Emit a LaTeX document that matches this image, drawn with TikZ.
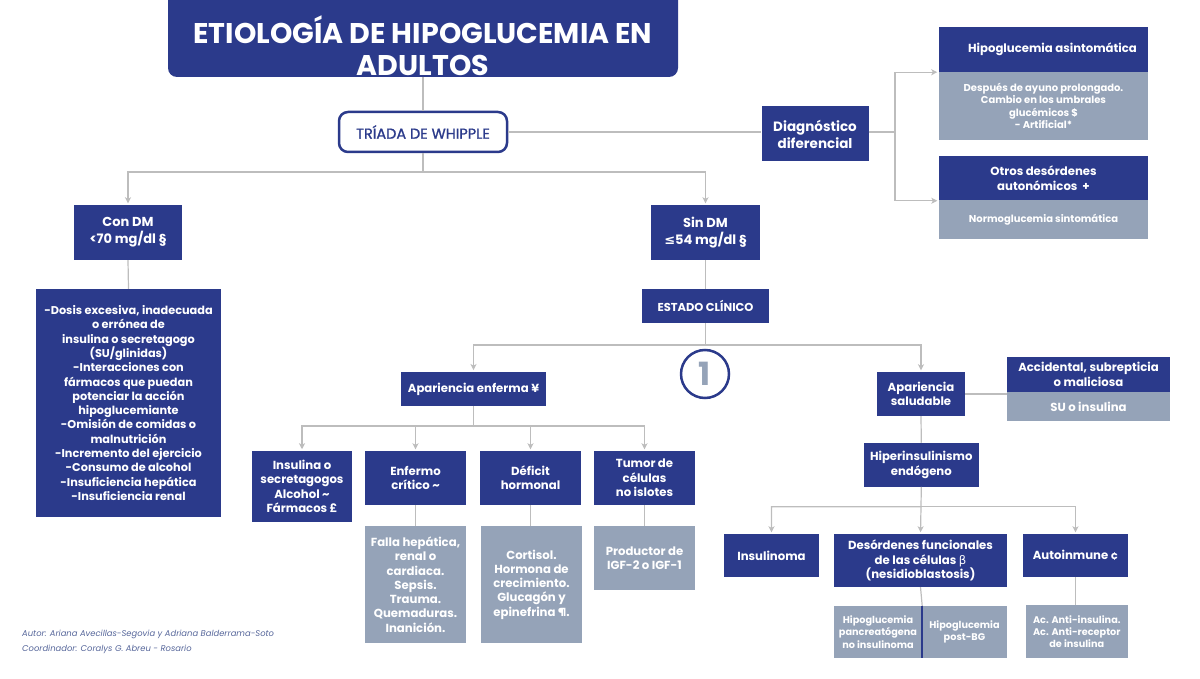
\documentclass[tikz,border=0pt]{standalone}
\usepackage{fontspec}
\setmainfont{Poppins}
\newfontfamily\dvs{DejaVu Sans}
\newfontfamily\popmed[FakeBold=1.2]{Poppins}
\usetikzlibrary{arrows.meta,calc}
\definecolor{navy}{HTML}{2B3A8B}
\definecolor{grayb}{HTML}{95A3B8}
\definecolor{linec}{HTML}{BDBDBD}
\definecolor{authc}{HTML}{56669A}
\newcommand\myfs[2]{\fontsize{#1}{#2}\selectfont}
\tikzset{
  nb/.style={fill=navy, text=white, align=center, inner sep=0pt, font=\bfseries\myfs{11.7}{14.3}},
  gb/.style={fill=grayb, text=white, align=center, inner sep=0pt, font=\bfseries\myfs{11.7}{14.3}},
  ln/.style={draw=linec, line width=1.2pt},
  ar/.style={ln, -{Stealth[length=6pt,width=6pt,inset=1.5pt]}, shorten >=1.5pt},
}
\begin{document}
\begin{tikzpicture}[x=1pt,y=-1pt]
\useasboundingbox (0,0) rectangle (1200,679);
% title
\node[fill=navy, rounded corners=9pt, minimum width=510pt, minimum height=86pt, inner sep=0pt] (title) at (423,34) {};
\node[text=white, align=center, font=\bfseries\myfs{28.5}{31.5}] (titletext) at (423,45.5) {ETIOLOGÍA DE HIPOGLUCEMIA EN\\ADULTOS};
% whipple
\node[draw=navy, line width=2.5pt, fill=white, rounded corners=9pt, minimum width=168pt, minimum height=40pt, inner sep=0pt, text=navy, font=\popmed\myfs{14.5}{16}] (whipple) at (423,132) {TRÍADA DE WHIPPLE};
% diagnostico
\node[nb, minimum width=107pt, minimum height=55pt, font=\bfseries\myfs{13.5}{17}] (diag) at (815,134) {Diagnóstico\\diferencial};
\node[nb, minimum width=209pt, minimum height=45pt, font=\bfseries\myfs{11.7}{14}] (asinN) at (1043.5,49.5) {\hspace*{18pt}Hipoglucemia asintomática};
\node[gb, minimum width=209pt, minimum height=68pt, font=\bfseries\myfs{10}{12.4}] (asinG) at (1043.5,106) {Después de ayuno prolongado.\\Cambio en los umbrales\\glucémicos \$\\- Artificial*};
\node[nb, minimum width=209pt, minimum height=44.5pt, font=\bfseries\myfs{11.7}{14.5}] (otrosN) at (1043.5,178.3) {Otros desórdenes\\autonómicos~~+};
\node[gb, minimum width=209pt, minimum height=38.5pt, font=\bfseries\myfs{10}{12.4}] (otrosG) at (1043.5,219.7) {Normoglucemia sintomática};
% level 2
\node[nb, minimum width=108pt, minimum height=55pt, font=\bfseries\myfs{13}{17}] (condm) at (128,232.5) {Con DM\\<70 mg/dl §};
\node[nb, minimum width=109pt, minimum height=55pt, font=\bfseries\myfs{13}{17}] (sindm) at (705.5,232.5) {Sin DM\\{\dvs\bfseries ≤}54 mg/dl §};
\node[nb, minimum width=185pt, minimum height=228pt, font=\bfseries\myfs{11.3}{14.3}] (dosis) at (128.5,403) {-Dosis excesiva, inadecuada\\o errónea de\\insulina o secretagogo\\(SU/glinidas)\\-Interacciones con\\fármacos que puedan\\potenciar la acción\\hipoglucemiante\\-Omisión de comidas o\\malnutrición\\-Incremento del ejercicio\\-Consumo de alcohol\\-Insuficiencia hepática\\-Insuficiencia renal};
\node[nb, minimum width=127pt, minimum height=34pt, font=\bfseries\myfs{11.5}{14}] (estado) at (705.5,306) {ESTADO CLÍNICO};
\node[draw=navy, line width=2.5pt, circle, minimum size=48pt, inner sep=0pt, text=grayb, font=\bfseries\myfs{32}{32}] (one) at (705,374) {1};
% enferma branch
\node[nb, minimum width=145pt, minimum height=34.5pt, font=\bfseries\myfs{11.7}{14}] (enferma) at (473.5,389) {Apariencia enferma ¥};
\node[nb, minimum width=100pt, minimum height=70.7pt] (insul) at (302,486.3) {Insulina o\\secretagogos\\Alcohol \textasciitilde\\Fármacos £};
\node[nb, minimum width=101pt, minimum height=54pt] (enfcrit) at (415.5,478) {Enfermo\\crítico \textasciitilde};
\node[nb, minimum width=101pt, minimum height=54pt] (deficit) at (530.5,478) {Déficit\\hormonal};
\node[nb, minimum width=101pt, minimum height=54pt] (tumor) at (644.5,478) {Tumor de\\células\\no islotes};
\node[gb, minimum width=101pt, minimum height=117pt] (falla) at (415.5,584.5) {Falla hepática,\\renal o\\cardiaca.\\Sepsis.\\Trauma.\\Quemaduras.\\Inanición.};
\node[gb, minimum width=101pt, minimum height=117pt] (cortisol) at (531.5,584.5) {Cortisol.\\Hormona de\\crecimiento.\\Glucagón y\\epinefrina ¶.};
\node[gb, minimum width=101pt, minimum height=64pt] (productor) at (644.5,558) {Productor de\\IGF-2 o IGF-1};
% saludable branch
\node[nb, minimum width=88pt, minimum height=44pt] (saludable) at (921,394) {Apariencia\\saludable};
\node[nb, minimum width=163pt, minimum height=35pt] (accid) at (1088.5,374.5) {Accidental, subrepticia\\o maliciosa};
\node[gb, minimum width=163pt, minimum height=29pt] (su) at (1088.5,406.5) {SU o insulina};
\node[nb, minimum width=114.7pt, minimum height=43.7pt] (hiper) at (921.3,464.8) {Hiperinsulinismo\\endógeno};
\node[nb, minimum width=95pt, minimum height=43pt] (insulinoma) at (771.5,555.5) {Insulinoma};
\node[nb, minimum width=173pt, minimum height=53pt] (desord) at (920.5,560.5) {Desórdenes funcionales\\de las células {\dvs\mdseries β}\\(nesidioblastosis)};
\node[nb, minimum width=105pt, minimum height=43pt] (autoin) at (1075.5,555.5) {Autoinmune ¢};
\node[gb, minimum width=88pt, minimum height=52pt, font=\bfseries\myfs{9.7}{12.3}] (pancr) at (878,632) {Hipoglucemia\\pancreatógena\\no insulinoma};
\node[gb, minimum width=85pt, minimum height=52pt, font=\bfseries\myfs{9.7}{12.3}] (postbg) at (964.5,632) {Hipoglucemia\\post-BG};
\draw[navy, line width=1.5pt] (pancr.north east) -- (pancr.south east);
\node[gb, minimum width=102.3pt, minimum height=53pt, font=\bfseries\myfs{9.7}{12.3}] (acanti) at (1076.8,631.5) {Ac. Anti-insulina.\\Ac. Anti-receptor\\de insulina};
% author
\node[anchor=west, align=left, text=authc, inner sep=0pt, font=\itshape\myfs{8.4}{15}] (author) at (22,641.5) {Autor: Ariana Avecillas-Segovia y Adriana Balderrama-Soto\\Coordinador: Coralys G. Abreu - Rosario};
% connectors
\draw[ln] (title.south) -- (whipple.north);
\draw[ln] (whipple.east) -- (whipple.east -| diag.west);
\coordinate (dj) at (895,132);
\draw[ar] (whipple.east -| diag.east) -- (dj) |- (asinN.south west);
\draw[ar] (dj) |- (otrosN.south west);
\coordinate (wj) at (423,172);
\draw[ar] (whipple.south) -- (wj) -| (condm.north);
\draw[ar] (wj) -| (sindm.north);
\draw[ln] (condm.south) -- (dosis.north);
\draw[ln] (sindm.south) -- (estado.north);
\coordinate (ej) at (705.5,345);
\draw[ar] (estado.south) -- (ej) -| (enferma.north);
\draw[ar] (ej) -| (saludable.north);
\coordinate (aj) at (473.5,426);
\draw[ar] (enferma.south) -- (aj) -| (insul.north);
\draw[ar] (aj) -| (enfcrit.north);
\draw[ar] (aj) -| (deficit.north);
\draw[ar] (aj) -| (tumor.north);
\draw[ln] (enfcrit.south) -- (falla.north);
\draw[ln] (deficit.south) -- (deficit.south |- cortisol.north);
\draw[ln] (tumor.south) -- (productor.north);
\draw[ln] (saludable.east) -- (saludable.east -| su.west);
\draw[ln] (saludable.south) -- (hiper.north);
\coordinate (hj) at (921,506.7);
\draw[ar] (hiper.south) -- (hj) -| (insulinoma.north);
\draw[ar] (hj) -- (desord.north);
\draw[ar] (hj) -| (autoin.north);
\draw[ln] (desord.south) -- (pancr.north east);
\draw[ln] (autoin.south) -- (autoin.south |- acanti.north);
\end{tikzpicture}
\end{document}
